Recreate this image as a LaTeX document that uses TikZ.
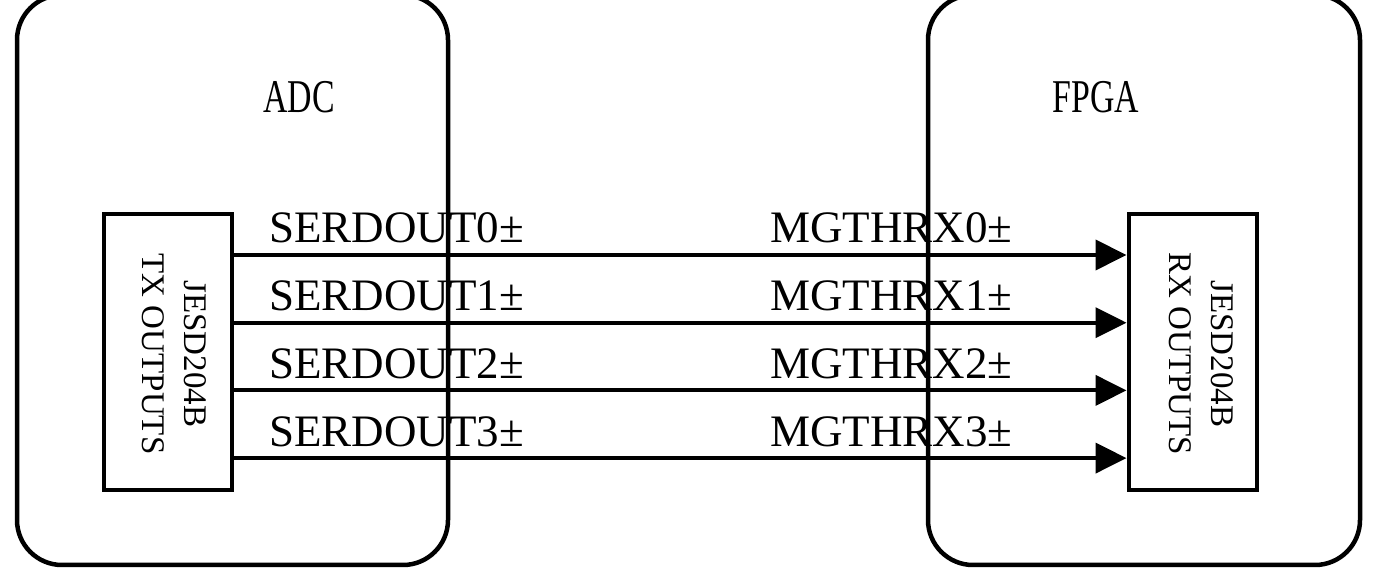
\documentclass[tikz,border=0pt]{standalone}
\usepackage{fontspec}
\setmainfont{Liberation Serif}
\newfontfamily\narrowfont[FakeStretch=0.72]{Liberation Serif}
\usetikzlibrary{positioning, calc, arrows.meta}
\tikzstyle{chip}=[draw=black, line width=4.5pt, rounded corners=45pt, inner sep=0pt]
\tikzstyle{port}=[draw=black, line width=4pt, minimum width=128pt, minimum height=276pt, inner sep=0pt]
\tikzstyle{portText}=[rotate=-90, align=center, inner sep=0pt, font=\fontsize{33}{42}\selectfont]
\tikzstyle{lane}=[-{Triangle[length=31pt,width=30pt]}, line width=4pt, draw=black]
\tikzstyle{laneLabel}=[anchor=base west, inner sep=0pt, font=\fontsize{45}{50}\selectfont]
\tikzstyle{chipLabel}=[anchor=base, inner sep=0pt, font=\narrowfont\fontsize{47}{50}\selectfont]

\begin{document}
\begin{tikzpicture}[x=1pt, y=1pt]
      \useasboundingbox (0,0) rectangle (1382,570);
      \clip (0,0) rectangle (1382,570);

      % the two chips
      \node[chip, minimum width=431pt, minimum height=570pt] (adc) at (232.5,290) {};
      \node[chip, minimum width=432pt, minimum height=570pt] (fpga) at (1144,290) {};

      \node[chipLabel] (adcName) at (299,457) {ADC};
      \node[chipLabel] (fpgaName) at (1096,457) {FPGA};

      % JESD204B ports
      \node[port] (txbox) at (168,218) {};
      \node[port] (rxbox) at (1192.5,218) {};

      \node[portText] (txName) at ($(txbox.center)+(6.5,-2)$) {JESD204B\\TX OUTPUTS};
      \node[portText] (rxName) at ($(rxbox.center)+(9,-2)$) {JESD204B\\RX OUTPUTS};

      % lanes
      \foreach \i in {0,...,3}
      {
        \pgfmathsetmacro{\y}{315-67.7*\i}
        \draw[lane] (txbox.east |- 0,\y) -- (rxbox.west |- 0,\y);
        \node[laneLabel] at (269,\y+12) {SERDOUT\i±};
        \node[laneLabel] at (770,\y+12) {MGTHRX\i±};
      }
    \end{tikzpicture}
\end{document}
